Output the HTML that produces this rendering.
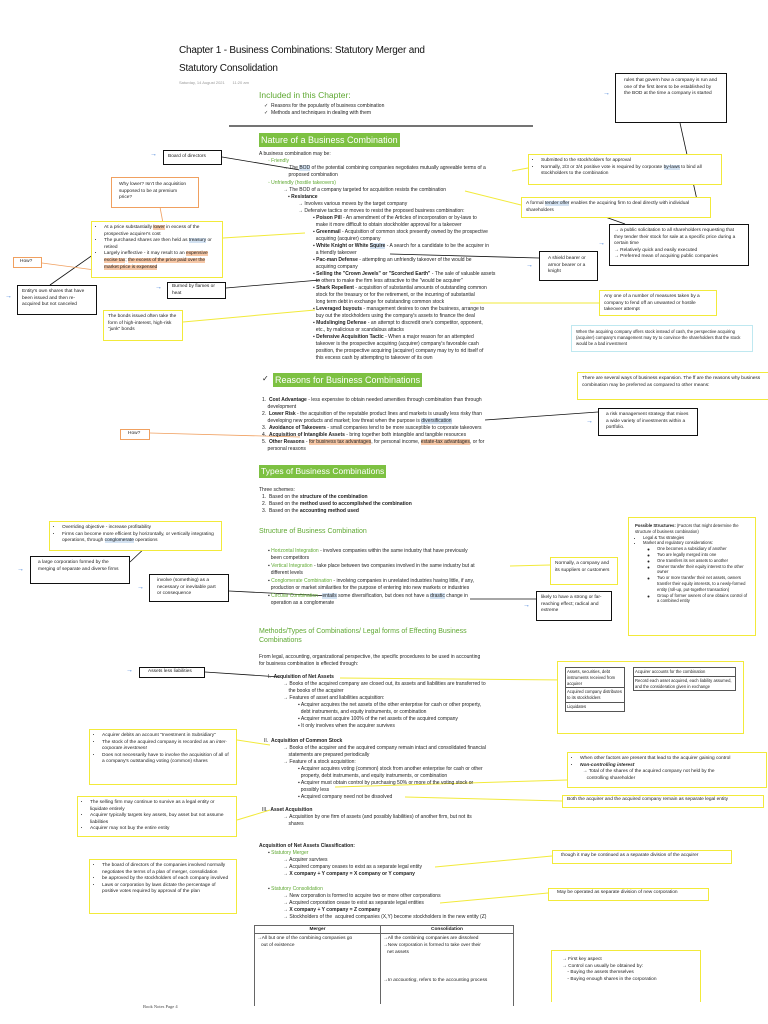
<!DOCTYPE html>
<html><head><meta charset="utf-8"><style>
body{margin:0;width:768px;height:1024px;background:#fff;position:relative;overflow:hidden;font-family:"Liberation Sans",sans-serif;color:#222}
.t{position:absolute;white-space:nowrap;font-size:5px;line-height:7px}
.b{position:absolute;box-sizing:border-box;font-size:4.8px;line-height:6.6px;padding:3px 4px;background:#fff}
.y{border:1.5px solid #f2ea3a}.k{border:1.3px solid #111}.o{border:1px solid #f0a060}.c{border:1px solid #bfe8f0}
.g{color:#5fa832}.bar{position:absolute;background:#7dc142;color:#fff;font-size:9px;line-height:14px;padding:0 2px;white-space:nowrap}
b{font-weight:bold}.hl{background:#f6c7a6}.bl{background:#d4e3f3}
ul{margin:0;padding-left:8px}li{margin:0}
.ar{position:absolute;color:#3a7bd5;font-size:7px}
</style></head><body>
<svg width="768" height="1024" style="position:absolute;left:0;top:0">
<line x1="229" y1="126" x2="533" y2="126" stroke="#222" stroke-width="1.3"/>
<g stroke="#f2ea3a" stroke-width="1">
<line x1="512" y1="171" x2="528" y2="168"/><line x1="465" y1="191" x2="521" y2="205"/>
<line x1="223" y1="238" x2="305" y2="233"/><line x1="183" y1="322" x2="315" y2="310"/>
<line x1="470" y1="303" x2="599" y2="303"/>
<line x1="510" y1="566" x2="550" y2="565"/><line x1="340" y1="678" x2="568" y2="680"/>
<line x1="237" y1="740" x2="270" y2="745"/><line x1="335" y1="787" x2="567" y2="780"/>
<line x1="405" y1="797" x2="562" y2="801"/><line x1="237" y1="820" x2="270" y2="810"/>
<line x1="435" y1="867" x2="552" y2="856"/><line x1="440" y1="903" x2="548" y2="893"/>
</g>
<g stroke="#111" stroke-width="0.8">
<line x1="680" y1="123" x2="697" y2="200"/><line x1="222" y1="157" x2="300" y2="170"/>
<line x1="580" y1="208" x2="625" y2="224"/><line x1="390" y1="254" x2="539" y2="258"/>
<line x1="226" y1="288" x2="320" y2="280"/><line x1="50" y1="285" x2="107" y2="245"/>
<line x1="485" y1="420" x2="598" y2="412"/><line x1="130" y1="562" x2="148" y2="545"/>
<line x1="229" y1="591" x2="330" y2="596"/><line x1="470" y1="599" x2="536" y2="599"/>
<line x1="205" y1="672" x2="280" y2="677"/>
</g>
<g stroke="#f0a060" stroke-width="0.8">
<line x1="160" y1="207" x2="168" y2="250"/><line x1="42" y1="263" x2="110" y2="272"/>
<line x1="150" y1="433" x2="300" y2="437"/>
</g>
</svg>
<div class="t" style="left:179px;top:42px;font-size:10px;line-height:18px;color:#111;letter-spacing:-0.2px">Chapter 1 - Business Combinations: Statutory Merger and<br>Statutory Consolidation</div>
<div class="t" style="left:179px;top:79px;font-size:4px;color:#999">Saturday, 14 August 2021 &nbsp; &nbsp; &nbsp; 11:20 am</div>
<div class="t g" style="left:259px;top:90px;font-size:8.5px;line-height:11px">Included in this Chapter:</div>
<div class="t" style="left:264px;top:103px">✓ &nbsp;Reasons for the popularity of business combination<br>✓ &nbsp;Methods and techniques in dealing with them</div>
<div class="bar" style="left:259px;top:133px">Nature of a Business Combination</div>
<div class="t" style="left:259px;top:151px">A business combination may be:</div>
<div class="t g" style="left:268px;top:158px">◦ Friendly</div>
<div class="t" style="left:283px;top:165px">→ The <span class="bl">BOD</span> of the potential combining companies negotiates mutually agreeable terms of a<br>&nbsp; &nbsp; proposed combination</div>
<div class="t g" style="left:268px;top:180px">◦ Unfriendly (hostile takeovers)</div>
<div class="t" style="left:283px;top:187px">→ The BOD of a company targeted for acquisition resists the combination</div>
<div class="t" style="left:288px;top:194px">▪ <b>Resistance</b></div>
<div class="t" style="left:298px;top:201px">→ Involves various moves by the target company<br>→ Defensive tactics or moves to resist the proposed business combination:</div>
<div class="t" style="left:313px;top:215px">▪ <b>Poison Pill</b> - An amendment of the Articles of incorporation or by-laws to<br>&nbsp; make it more difficult to obtain stockholder approval for a takeover<br>▪ <b>Greenmail</b> - Acquisition of common stock presently owned by the prospective<br>&nbsp; acquiring (acquirer) company<br>▪ <b>White Knight or White <span class="bl">Squire</span></b> - A search for a candidate to be the acquirer in<br>&nbsp; a friendly takeover<br>▪ <b>Pac-man Defense</b> - attempting an unfriendly takeover of the would be<br>&nbsp; acquiring company<br>▪ <b>Selling the "Crown Jewels" or "Scorched Earth"</b> - The sale of valuable assets<br>&nbsp; to others to make the firm less attractive to the "would be acquirer"<br>▪ <b>Shark Repellent</b> - acquisition of substantial amounts of outstanding common<br>&nbsp; stock for the treasury or for the retirement, or the incurring of substantial<br>&nbsp; long term debt in exchange for outstanding common stock<br>▪ <b>Leveraged buyouts</b> - management desires to own the business, arrange to<br>&nbsp; buy out the stockholders using the company's assets to finance the deal<br>▪ <b>Mudslinging Defense</b> - an attempt to discredit one's competitor, opponent,<br>&nbsp; etc., by malicious or scandalous attacks<br>▪ <b>Defensive Acquisition Tactic</b> - When a major reason for an attempted<br>&nbsp; takeover is the prospective acquiring (acquirer) company's favorable cash<br>&nbsp; position, the prospective acquiring (acquirer) company may try to rid itself of<br>&nbsp; this excess cash by attempting to takeover of its own</div>

<div class="b k" style="left:615px;top:73px;width:112px;height:50px;padding:4px 8px">rules that govern how a company is run and one of the first items to be established by the BOD at the time a company is started</div>
<div class="ar" style="left:603px;top:90px">→</div>
<div class="b k" style="left:163px;top:150px;width:59px;height:15px">Board of directors</div>
<div class="ar" style="left:150px;top:151px">→</div>
<div class="b y" style="left:528px;top:154px;width:194px;height:31px"><ul><li>Submitted to the stockholders for approval</li><li>Normally, 2/3 or 3/4 positive vote is required by corporate <span class="bl">by-laws</span> to bind all stockholders to the combination</li></ul></div>
<div class="b o" style="left:111px;top:177px;width:88px;height:31px;padding:4px 7px">Why lower? Isn't the acquisition supposed to be at premium price?</div>
<div class="b y" style="left:91px;top:221px;width:132px;height:57px"><ul><li>At a price substantially <span class="hl">lower</span> in excess of the prospective acquirer's cost</li><li>The purchased shares are then held as <span class="bl">treasury</span> or retired</li><li>Largely ineffective - it may result to an <span class="hl">expensive excise tax</span>; <span class="hl">the excess of the price paid over the market price is expensed</span></li></ul></div>
<div class="b o" style="left:13px;top:257px;width:29px;height:11px;padding:1px 6px">How?</div>
<div class="b k" style="left:17px;top:285px;width:80px;height:30px">Entity's own shares that have been issued and then re-acquired but not canceled</div>
<div class="ar" style="left:5px;top:293px">→</div>
<div class="b k" style="left:167px;top:282px;width:59px;height:17px;padding:1px 4px">Burned by flames or heat</div>
<div class="ar" style="left:155px;top:284px">→</div>
<div class="b y" style="left:103px;top:310px;width:80px;height:31px">The bonds issued often take the form of high-interest, high-risk "junk" bonds</div>
<div class="b y" style="left:521px;top:197px;width:190px;height:21px">A formal <span class="bl">tender offer</span> enables the acquiring firm to deal directly with individual shareholders</div>
<div class="b k" style="left:609px;top:224px;width:140px;height:42px">→ a public solicitation to all shareholders requesting that they tender their stock for sale at a specific price during a certain time<br>→ Relatively quick and easily executed<br>→ Preferred mean of acquiring public companies</div>
<div class="ar" style="left:598px;top:240px">→</div>
<div class="b k" style="left:539px;top:251px;width:59px;height:30px;padding:4px 8px">A shield bearer or armor bearer or a knight</div>
<div class="ar" style="left:526px;top:262px">→</div>
<div class="b y" style="left:599px;top:290px;width:118px;height:26px">Any one of a number of measures taken by a company to fend off an unwanted or hostile takeover attempt</div>
<div class="b c" style="left:571px;top:325px;width:182px;height:27px;font-size:4.3px;line-height:6px">When the acquiring company offers stock instead of cash, the perspective acquiring (acquirer) company's management may try to convince the shareholders that the stock would be a bad investment</div>

<div class="t" style="left:262px;top:374px;font-size:8px;line-height:10px">✓</div>
<div class="bar" style="left:273px;top:373px">Reasons for Business Combinations</div>
<div class="b y" style="left:577px;top:372px;width:195px;height:28px">There are several ways of business expansion. The ff are the reasons why business combination may be preferred as compared to other means:</div>
<div class="t" style="left:262px;top:397px">1. &nbsp;<b>Cost Advantage</b> - less expensive to obtain needed amenities through combination than through<br>&nbsp; &nbsp; development<br>2. &nbsp;<b>Lower Risk</b> - the acquisition of the reputable product lines and markets is usually less risky than<br>&nbsp; &nbsp; developing new products and market; low threat when the purpose is <span class="bl">diversification</span><br>3. &nbsp;<b>Avoidance of Takeovers</b> - small companies tend to be more susceptible to corporate takeovers<br>4. &nbsp;<b>Acquisition of Intangible Assets</b> - bring together both intangible and tangible resources<br>5. &nbsp;<b>Other Reasons</b> - <span class="hl">for business tax advantages</span>, for personal income, <span class="hl">estate-tax advantages</span>, or for<br>&nbsp; &nbsp; personal reasons</div>
<div class="b o" style="left:120px;top:429px;width:30px;height:11px;padding:1px 7px">How?</div>
<div class="b k" style="left:598px;top:408px;width:100px;height:28px;padding:3px 7px">a risk management strategy that mixes a wide variety of investments within a portfolio.</div>
<div class="ar" style="left:586px;top:418px">→</div>

<div class="bar" style="left:259px;top:465px;font-size:8.5px;line-height:13px">Types of Business Combinations</div>
<div class="t" style="left:259px;top:487px">Three schemes:</div>
<div class="t" style="left:262px;top:494px">1. &nbsp;Based on the <b>structure of the combination</b><br>2. &nbsp;Based on the <b>method used to accomplished the combination</b><br>3. &nbsp;Based on the <b>accounting method used</b></div>
<div class="t g" style="left:259px;top:527px;font-size:7px;line-height:9px">Structure of Business Combination</div>
<div class="b y" style="left:49px;top:521px;width:173px;height:30px"><ul><li>Overriding objective - increase profitability</li><li>Firms can become more efficient by horizontally, or vertically integrating operations, through <span class="bl">conglomerate</span> operations</li></ul></div>
<div class="b k" style="left:30px;top:556px;width:100px;height:28px;padding:3px 7px">a large corporation formed by the merging of separate and diverse firms</div>
<div class="ar" style="left:17px;top:566px">→</div>
<div class="b k" style="left:149px;top:574px;width:80px;height:28px;padding:3px 7px">involve (something) as a necessary or inevitable part or consequence</div>
<div class="ar" style="left:137px;top:584px">→</div>
<div class="t" style="left:268px;top:548px">▪ <span class="g">Horizontal Integration</span> - involves companies within the same industry that have previously<br>&nbsp; been competitors</div>
<div class="t" style="left:268px;top:563px">▪ <span class="g">Vertical Integration</span> - take place between two companies involved in the same industry but at<br>&nbsp; different levels</div>
<div class="t" style="left:268px;top:578px">▪ <span class="g">Conglomerate Combination</span> - involving companies in unrelated industries having little, if any,<br>&nbsp; production or market similarities for the purpose of entering into new markets or industries</div>
<div class="t" style="left:268px;top:593px">▪ <span class="g">Circular Combination</span> - <span class="bl">entails</span> some diversification, but does not have a <span class="bl">drastic</span> change in<br>&nbsp; operation as a conglomerate</div>
<div class="b y" style="left:550px;top:557px;width:68px;height:28px">Normally, a company and its suppliers or customers</div>
<div class="b k" style="left:536px;top:591px;width:76px;height:30px">likely to have a strong or far-reaching effect; radical and extreme</div>
<div class="ar" style="left:523px;top:602px">→</div>
<div class="b y" style="left:628px;top:517px;width:128px;height:119px;font-size:4.2px;line-height:5.8px;padding:5px 6px"><b>Possible Structures:</b> (Factors that might determine the structure of business combination)<ul><li>Legal &amp; Tax strategies</li><li>Market and regulatory considerations:<ul style="list-style:circle;padding-left:14px"><li>One becomes a subsidiary of another</li><li>Two are legally merged into one</li><li>One transfers its net assets to another</li><li>Owner transfer their equity interest to the other owner</li><li>Two or more transfer their net assets, owners transfer their equity interests, to a newly-formed entity (roll-up, put-together transaction)</li><li>Group of former owners of one obtains control of a combined entity</li></ul></li></ul></div>

<div class="t g" style="left:259px;top:627px;font-size:7px;line-height:9px">Methods/Types of Combinations/ Legal forms of Effecting Business<br>Combinations</div>
<div class="t" style="left:259px;top:654px">From legal, accounting, organizational perspective, the specific procedures to be used in accounting<br>for business combination is effected through:</div>
<div class="b k" style="left:139px;top:667px;width:66px;height:11px;padding:1px 8px">Assets less liabilities</div>
<div class="ar" style="left:126px;top:667px">→</div>
<div class="t" style="left:268px;top:674px">I. &nbsp;<b>Acquisition of Net Assets</b></div>
<div class="t" style="left:283px;top:681px">→ Books of the acquired company are closed out, its assets and liabilities are transferred to<br>&nbsp; &nbsp; the books of the acquirer<br>→ Features of asset and liabilities acquisition:</div>
<div class="t" style="left:298px;top:702px">▪ Acquirer acquires the net assets of the other enterprise for cash or other property,<br>&nbsp; debt instruments, and equity instruments, or combination<br>▪ Acquirer must acquire 100% of the net assets of the acquired company<br>▪ It only involves when the acquirer survives</div>
<div class="b y" style="left:557px;top:661px;width:187px;height:73px;padding:5px"></div>
<div style="position:absolute;left:565px;top:667px;width:60px;font-size:4.2px;line-height:5.8px">
<div style="border:1px solid #555;padding:1px">Assets, securities, debt instruments received from acquirer</div>
<div style="border:1px solid #555;border-top:0;padding:1px">Acquired company distributes to its stockholders</div>
<div style="border:1px solid #555;border-top:0;padding:1px">Liquidates</div></div>
<div style="position:absolute;left:633px;top:667px;width:103px;font-size:4.2px;line-height:5.8px">
<div style="border:1px solid #555;padding:1px">Acquirer accounts for the combination</div>
<div style="border:1px solid #555;border-top:0;padding:1px">Record each asset acquired, each liability assumed, and the consideration given in exchange</div></div>

<div class="b y" style="left:89px;top:729px;width:148px;height:56px"><ul><li>Acquirer debits an account "Investment in Subsidiary"</li><li>The stock of the acquired company is recorded as an <i>inter-corporate investment</i></li><li>Does not necessarily have to involve the acquisition of all of a company's outstanding voting (common) shares</li></ul></div>
<div class="t" style="left:264px;top:738px">II. &nbsp;<b>Acquisition of Common Stock</b></div>
<div class="t" style="left:283px;top:745px">→ Books of the acquirer and the acquired company remain intact and consolidated financial<br>&nbsp; &nbsp; statements are prepared periodically<br>→ Feature of a stock acquisition:</div>
<div class="t" style="left:298px;top:766px">▪ Acquirer acquires voting (common) stock from another enterprise for cash or other<br>&nbsp; property, debt instruments, and equity instruments, or combination<br>▪ Acquirer must obtain control by purchasing 50% or more of the voting stock or<br>&nbsp; possibly less<br>▪ Acquired company need not be dissolved</div>
<div class="b y" style="left:567px;top:752px;width:200px;height:36px"><ul><li>When other factors are present that lead to the acquirer gaining control</li><li><b><i>Non-controlling interest</i></b><br>&nbsp; → Total of the shares of the acquired company not held by the<br>&nbsp; &nbsp; &nbsp;controlling shareholder</li></ul></div>
<div class="b y" style="left:562px;top:795px;width:202px;height:13px;padding:1px 4px">Both the acquirer and the acquired company remain as separate legal entity</div>
<div class="b y" style="left:77px;top:796px;width:160px;height:41px"><ul><li>The selling firm may continue to survive as a legal entity or liquidate entirely</li><li>Acquirer typically targets key assets, buy asset but not assume liabilities</li><li>Acquirer may not buy the entire entity</li></ul></div>
<div class="t" style="left:262px;top:807px">III. &nbsp;<b>Asset Acquisition</b></div>
<div class="t" style="left:283px;top:814px">→ Acquisition by one firm of assets (and possibly liabilities) of another firm, but not its<br>&nbsp; &nbsp; shares</div>
<div class="t" style="left:259px;top:843px"><b>Acquisition of Net Assets Classification:</b></div>
<div class="t" style="left:268px;top:850px">▪ <span class="g">Statutory Merger</span></div>
<div class="t" style="left:283px;top:857px">→ Acquirer survives<br>→ Acquired company ceases to exist as a separate legal entity<br>→ <b>X company + Y company = X company or Y company</b></div>
<div class="b y" style="left:552px;top:850px;width:180px;height:14px;padding:2px 8px">though it may be continued as a separate division of the acquirer</div>
<div class="b y" style="left:89px;top:859px;width:148px;height:55px"><ul><li>The board of directors of the companies involved normally negotiates the terms of a plan of merger, consolidation</li><li>be approved by the stockholders of each company involved</li><li>Laws or corporation by laws dictate the percentage of positive votes required by approval of the plan</li></ul></div>
<div class="t" style="left:268px;top:886px">▪ <span class="g">Statutory Consolidation</span></div>
<div class="t" style="left:283px;top:893px">→ New corporation is formed to acquire two or more other corporations<br>→ Acquired corporation cease to exist as separate legal entities<br>→ <b>X company + Y company = Z company</b><br>→ Stockholders of the &nbsp;acquired companies (X,Y) become stockholders in the new entity (Z)</div>
<div class="b y" style="left:548px;top:888px;width:161px;height:13px;padding:1px 8px">May be operated as separate division of new corporation</div>
<div style="position:absolute;left:254px;top:925px;width:258px;height:80px;border:1px solid #666;border-bottom:0;font-size:4.8px;line-height:7px">
<div style="display:flex;border-bottom:1px solid #666;text-align:center;font-weight:bold"><div style="width:125px;border-right:1px solid #666">Merger</div><div style="flex:1">Consolidation</div></div>
<div style="display:flex;height:70px"><div style="width:121px;border-right:1px solid #666;padding:1px 2px">→All but one of the combining companies go<br>&nbsp; &nbsp;out of existence</div><div style="flex:1;padding:1px 2px">→All the combining companies are dissolved<br>→New corporation is formed to take over their<br>&nbsp; &nbsp;net assets<br><br><br><br>→<i>In accounting</i>, refers to the accounting process</div></div></div>
<div class="b y" style="left:551px;top:950px;width:150px;height:52px;border-bottom:0;padding:6px 10px">→ First key aspect<br>→ Control can usually be obtained by:<br>&nbsp; &nbsp; ◦ Buying the assets themselves<br>&nbsp; &nbsp; ◦ Buying enough shares in the corporation</div>
<div class="t" style="left:143px;top:1003px;font-family:'Liberation Serif',serif;font-size:4.5px;color:#444">Book Notes Page 4</div>
</body></html>
